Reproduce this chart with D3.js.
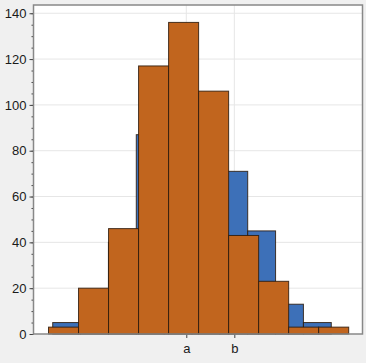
<html>
<head>
<script src="https://cdn.jsdelivr.net/npm/d3@7"></script>
<style>
  body { margin: 0; background: #f0f0f0; }
  text { font-family: "Liberation Sans", Arial, sans-serif; }
</style>
</head>
<body>
<script>
// two histograms, equal number of bins, different bin ranges
var blueStart = -4.86, blueWidth = 0.928;
var blueCounts = [5, 14, 40, 87, 115, 105, 71, 45, 13, 5];
var orangeStart = -5, orangeWidth = 1;
var orangeCounts = [3, 20, 46, 117, 136, 106, 43, 23, 3, 3];
var yTicks = [0, 20, 40, 60, 80, 100, 120, 140];
var xTickPos = [-0.41, 1.19];
var xTickLabels = ["a", "b"];

var w = 366, h = 363;
var pL = 33.5, pR = 362.5, pT = 5, pB = 334;

var x = d3.scaleLinear().domain([-5.5, 5.46]).range([pL, pR]);
var y = d3.scaleLinear().domain([0, 143.6]).range([pB, pT]);

var svg = d3.select("body").append("svg").attr("width", w).attr("height", h);

svg.append("rect").attr("x", pL).attr("y", pT)
  .attr("width", pR - pL).attr("height", pB - pT).attr("fill", "white");

// grid
svg.append("g").selectAll("line").data(yTicks.slice(1)).enter().append("line")
  .attr("x1", pL).attr("x2", pR)
  .attr("y1", function(d){ return y(d); }).attr("y2", function(d){ return y(d); })
  .attr("stroke", "#e6e6e6").attr("stroke-width", 1);
svg.append("g").selectAll("line").data(xTickPos).enter().append("line")
  .attr("y1", pT).attr("y2", pB)
  .attr("x1", function(d){ return x(d); }).attr("x2", function(d){ return x(d); })
  .attr("stroke", "#e6e6e6").attr("stroke-width", 1);

function bins(start, width, counts) {
  return counts.map(function(c, i){ return { x0: start + i * width, x1: start + (i + 1) * width, n: c }; });
}

function drawBars(data, fill) {
  svg.append("g").selectAll("rect").data(data).enter().append("rect")
    .attr("x", function(d){ return x(d.x0); })
    .attr("width", function(d){ return x(d.x1) - x(d.x0); })
    .attr("y", function(d){ return y(d.n); })
    .attr("height", function(d){ return y(0) - y(d.n); })
    .attr("fill", fill)
    .attr("stroke", "#2b1a0c").attr("stroke-opacity", 0.85).attr("stroke-width", 1);
}
drawBars(bins(blueStart, blueWidth, blueCounts), "#3d70b8");
drawBars(bins(orangeStart, orangeWidth, orangeCounts), "#c1651e");

// axes
var yAxis = d3.axisLeft(y).tickValues(yTicks).tickSize(4).tickPadding(3);
var yMinor = d3.axisLeft(y).tickValues(d3.range(0, 145, 5)).tickSize(2).tickFormat("");
var xAxis = d3.axisBottom(x).tickValues(xTickPos).tickSize(4).tickPadding(6)
  .tickFormat(function(d, i){ return xTickLabels[i]; });

var gy2 = svg.append("g").attr("transform", "translate(" + pL + ",0)").call(yMinor);
var gy = svg.append("g").attr("transform", "translate(" + pL + ",0)").call(yAxis);
var gx = svg.append("g").attr("transform", "translate(0," + pB + ")").call(xAxis);
[gy, gy2, gx].forEach(function(g){
  g.select(".domain").remove();
  g.selectAll("line").attr("stroke", "#444");
  g.selectAll("text").attr("font-size", 13).attr("fill", "#1a1a1a");
});

// frame
svg.append("rect").attr("x", pL).attr("y", pT)
  .attr("width", pR - pL).attr("height", pB - pT)
  .attr("fill", "none").attr("stroke", "#888").attr("stroke-width", 1.5);
</script>
</body>
</html>
